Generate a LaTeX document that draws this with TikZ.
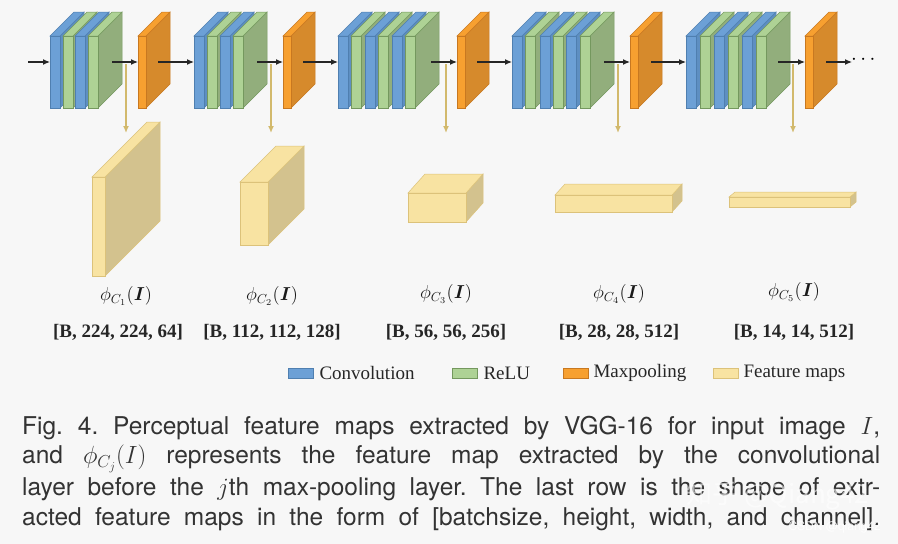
\documentclass[tikz,border=0pt]{standalone}
\usepackage{fontspec}
\usepackage{amsmath}
\usepackage{graphicx}
\frenchspacing
\newfontfamily\heros{TeX Gyre Heros}
\newfontfamily\tnr{Liberation Serif}
\newfontfamily\cjk{Noto Sans CJK SC}
\usetikzlibrary{arrows.meta}
\definecolor{bg}{HTML}{F7F7F7}
\definecolor{bF}{HTML}{6CA0D6}\definecolor{bS}{HTML}{5E8FC2}\definecolor{bE}{HTML}{4F7FB0}
\definecolor{gF}{HTML}{AED295}\definecolor{gS}{HTML}{92AE7C}\definecolor{gE}{HTML}{74985E}
\definecolor{oF}{HTML}{F7A030}\definecolor{oS}{HTML}{D68A2C}\definecolor{oE}{HTML}{C87820}
\definecolor{yF}{HTML}{F8E3A2}\definecolor{yS}{HTML}{D3C28E}\definecolor{yE}{HTML}{DCC27A}
\definecolor{tan}{HTML}{D2B96C}
\definecolor{cap}{HTML}{333333}
% #1 x, #2 w, #3 ytop, #4 h, #5 dx, #6 dy, #7 prefix
\newcommand\myslab[7]{%
 \filldraw[fill=#7S,draw=#7E,line width=0.5pt] (#1+#2,#3)--++(#5,-#6)--++(0,#4)--++(-#5,#6)--cycle;
 \filldraw[fill=#7F,draw=#7E,line width=0.5pt] (#1,#3)--++(#5,-#6)--++(#2,0)--++(-#5,#6)--cycle;
 \filldraw[fill=#7F,draw=#7E,line width=0.5pt] (#1,#3) rectangle ++(#2,#4);}
\newcommand\phil[1]{\scalebox{1.3}{\Large$\phi_{C_{#1}}(\boldsymbol{I})$}}
\tikzset{blk/.style={-{Latex[length=7pt,width=6pt]},line width=1.2pt,draw=black!85},
 ylw/.style={-{Latex[length=7pt,width=6pt]},line width=1.5pt,draw=tan},
 phi/.style={text=black!90},
 dim/.style={font=\tnr\bfseries\fontsize{19}{22}\selectfont,text=black!85},
 leg/.style={font=\tnr\fontsize{19}{22}\selectfont,text=black!85,anchor=west},
 capl/.style={font=\heros\fontsize{24.5}{30}\selectfont,text=cap,anchor=west,inner sep=0pt}}
\begin{document}
\begin{tikzpicture}[x=1pt,y=-1pt]
\fill[bg] (0,0) rectangle (898,544);
\useasboundingbox (0,0) rectangle (898,544);
% blocks
\foreach \x/\c in {50/b,63/g,75/b,88/g} {\myslab{\x}{10}{36}{72}{24}{24}{\c}}
\myslab{138}{8}{36}{72}{24}{24}{o}
\foreach \x/\c in {194/b,207/g,220/b,233/g} {\myslab{\x}{10}{36}{72}{24}{24}{\c}}
\myslab{283}{8}{36}{72}{24}{24}{o}
\foreach \x/\c in {338/b,351/g,365/b,378/g,392/b,405/g} {\myslab{\x}{10}{36}{72}{24}{24}{\c}}
\myslab{457}{8}{36}{72}{24}{24}{o}
\foreach \x/\c in {512/b,525/g,540/b,553/g,566/b,580/g} {\myslab{\x}{10}{36}{72}{24}{24}{\c}}
\myslab{630}{8}{36}{72}{24}{24}{o}
\foreach \x/\c in {686/b,700/g,714/b,728/g,742/b,756/g} {\myslab{\x}{10}{36}{72}{24}{24}{\c}}
\myslab{805}{8}{36}{72}{24}{24}{o}
% arrows
\coordinate (i0) at (28,62); \coordinate (i1) at (50,62);
\draw[blk] (i0)--(i1);
\foreach \a/\b/\c/\d/\n in {112/138/158/194/1,257/283/303/338/2,431/457/477/512/3,604/630/651/686/4,778/805/826/852/5}{
 \coordinate (a\n) at (\a,62); \coordinate (p\n) at (\b,62);
 \coordinate (q\n) at (\c,62); \coordinate (r\n) at (\d,62);
 \draw[blk] (a\n)--(p\n); \draw[blk] (q\n)--(r\n);}
\node[font=\fontsize{20}{20}\selectfont,inner sep=0pt] (dots) at (865,60) {$\cdots$};
% yellow arrows
\foreach \x/\n in {126/1,271/2,446/3,618/4,793/5}{
 \coordinate (ys\n) at (\x,64); \coordinate (ye\n) at (\x,133);
 \draw[ylw] (ys\n)--(ye\n);}
% feature maps
\myslab{92}{13}{177}{99}{55}{55}{y}
\myslab{240}{28}{182}{63}{36}{36}{y}
\myslab{408}{58}{193}{29}{17}{19}{y}
\myslab{555}{117}{195}{17}{10}{11}{y}
\myslab{729}{121}{197}{10}{6}{5}{y}
% labels
\node[phi] (l1) at (126,296) {\phil{1}};
\node[phi] (l2) at (272,296) {\phil{2}};
\node[phi] (l3) at (446,294) {\phil{3}};
\node[phi] (l4) at (619,294) {\phil{4}};
\node[phi] (l5) at (794,292) {\phil{5}};
\node[dim] (d1) at (118,332) {[B, 224, 224, 64]};
\node[dim] (d2) at (272,332) {[B, 112, 112, 128]};
\node[dim] (d3) at (446,332) {[B, 56, 56, 256]};
\node[dim] (d4) at (619,332) {[B, 28, 28, 512]};
\node[dim] (d5) at (794,332) {[B, 14, 14, 512]};
% legend
\filldraw[fill=bF,draw=bE] (288,368) rectangle (313,378);
\node[leg] (t1) at (316,373) {Convolution};
\filldraw[fill=gF,draw=gE] (452,368) rectangle (477,378);
\node[leg] (t2) at (480,373) {ReLU};
\filldraw[fill=oF,draw=oE] (563,368) rectangle (588,378);
\node[leg] (t3) at (590,373) {Maxpooling};
\filldraw[fill=yF,draw=yE] (713,368) rectangle (738,378);
\node[leg] (t4) at (740,373) {Feature maps};
% caption
\node[capl] (c1) at (22,428) {\makebox[858pt][s]{Fig. 4. Perceptual feature maps extracted by VGG-16 for input image $I$,}};
\node[capl] (c2) at (22,459) {\makebox[858pt][s]{and $\phi_{C_j}(I)$ represents the feature map extracted by the convolutional}};
\node[capl] (c3) at (22,489) {\makebox[858pt][s]{layer before the $j$th max-pooling layer. The last row is the shape of extr-}};
\node[capl] (c4) at (22,519) {\makebox[858pt][s]{acted feature maps in the form of [batchsize, height, width, and channel].}};
% watermarks
\node[font=\cjk\fontsize{26}{26}\selectfont,text=white,opacity=0.6,anchor=west] (w1) at (683,496) {知乎 @Qiang42};
\node[font=\heros\fontsize{12}{12}\selectfont,text=white,opacity=0.9,anchor=west] (w2) at (785,527) {CSDN @qiang42};
\end{tikzpicture}
\end{document}
